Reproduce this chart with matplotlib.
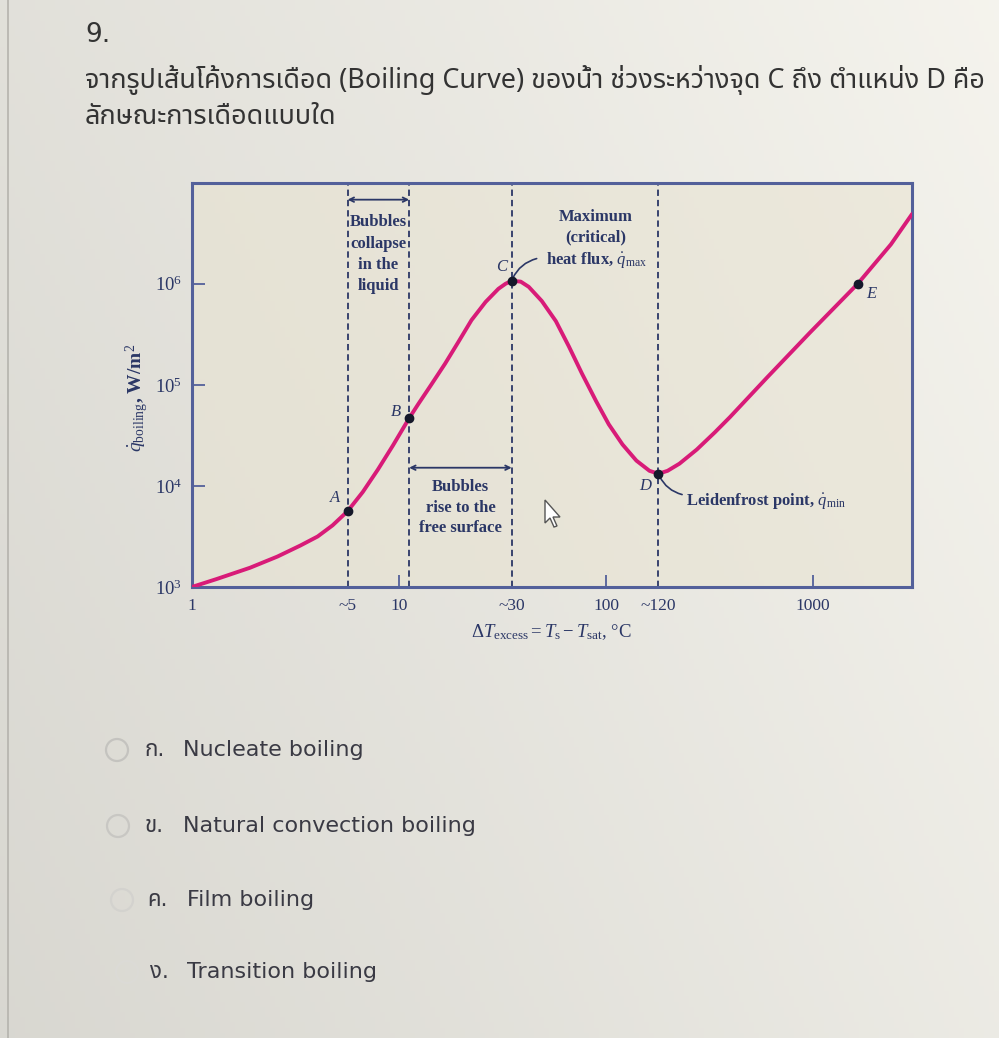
import numpy as np
import matplotlib.pyplot as plt
from matplotlib import font_manager
from matplotlib.ft2font import FT2Font
from matplotlib.patches import Circle, Polygon
from matplotlib.ticker import NullLocator

# boiling curve of water
# excess temperature (deg C) and boiling heat flux (W/m2)
dT = [1.0, 1.32, 1.91, 2.59, 3.34, 4.05, 4.78, 5.65, 6.69, 7.91, 9.35, 11.2,
      12.4, 14.3, 16.7, 19.3, 22.4, 26.2, 30.2, 32.7, 35.0, 38.7, 42.3,
      48.9, 57.2, 66.1, 76.5, 89.4, 103, 120, 140, 162, 179, 198, 226, 274,
      335, 396, 598, 967, 1640, 2370, 3000]
q = [1000, 1200, 1550, 2000, 2570, 3160, 4070, 5620, 8710, 14500, 25100,
     46800, 64600, 100000, 162000, 263000, 437000, 661000, 891000, 1.0e6,
     1.07e6, 1.05e6, 933000, 676000, 427000, 240000, 129000, 69200, 40700,
     25700, 17800, 14100, 13200, 14100, 16600, 22900, 33900, 47900, 118000,
     331000, 1.0e6, 2.45e6, 4.9e6]

# marked points
pt_names = ['A', 'B', 'C', 'D', 'E']
pt_dT = [5.65, 11.2, 35.0, 179, 1640]
pt_q = [5620, 46800, 1.07e6, 13200, 1.0e6]

# regime boundaries (dashed lines)
bound_dT = [5.65, 11.2, 35.0, 179]

x_ticks = [1, 5.65, 10, 35.0, 100, 179, 1000]
x_labels = ['1', '~5', '10', '~30', '100', '~120', '1000']
y_ticks = [1e3, 1e4, 1e5, 1e6]
y_labels = [r'$10^3$', r'$10^4$', r'$10^5$', r'$10^6$']

question_no = '9.'
question = ['จากรูปเส้นโค้งการเดือด (Boiling Curve) ของน้ำ ช่วงระหว่างจุด C ถึง ตำแหน่ง D คือ',
            'ลักษณะการเดือดแบบใด']
choice_marks = ['ก.', 'ข.', 'ค.', 'ง.']
choices = ['Nucleate boiling', 'Natural convection boiling', 'Film boiling',
           'Transition boiling']


def thai_fonts():
    names = []
    for f in font_manager.fontManager.ttflist:
        try:
            if 0x0E01 in FT2Font(f.fname).get_charmap():
                if f.name not in names:
                    names.append(f.name)
        except Exception:
            continue
    return names


thai_names = thai_fonts()
thai = 'DejaVu Sans'
for pref in ['Noto Sans Thai', 'Noto Sans Thai UI', 'Loma', 'Garuda', 'Tlwg Typo']:
    if pref in thai_names:
        thai = pref
        break
else:
    if thai_names:
        thai = thai_names[0]

question_font = [thai, 'DejaVu Sans']
choice_font = ['DejaVu Sans', thai]

plt.rcParams['font.family'] = ['Liberation Serif', 'DejaVu Serif']
plt.rcParams['mathtext.fontset'] = 'custom'
plt.rcParams['mathtext.rm'] = 'Liberation Serif'
plt.rcParams['mathtext.it'] = 'Liberation Serif:italic'
plt.rcParams['mathtext.bf'] = 'Liberation Serif:bold'

ink = '#2b3766'
frame = '#53609a'
curve = '#d81b78'

fig = plt.figure(figsize=(9.99, 10.38), dpi=100)

# page background (photo of a screen)
bg = fig.add_axes([0, 0, 1, 1])
yy, xx = np.mgrid[0:1:200j, 0:1:200j]
shade = 0.845 + 0.075 * xx + 0.035 * (1 - yy)
rgb = np.clip(np.dstack([shade + 0.005, shade, shade - 0.025]), 0, 1)
bg.imshow(rgb, extent=(0, 999, 1038, 0), aspect='auto', zorder=0)
bg.plot([8, 8], [0, 1038], color='#b5b3ad', lw=1.2)
bg.set_xlim(0, 999)
bg.set_ylim(1038, 0)
bg.axis('off')

bg.text(85, 35, question_no, fontsize=19, family=choice_font, color='#333333', va='center')
bg.text(85, 80, question[0], fontsize=19.4, family=question_font, color='#333333', va='center')
bg.text(85, 117, question[1], fontsize=19.4, family=question_font, color='#333333', va='center')

choice_y = [750, 826, 900, 972]
circle_x = [117, 118, 122, 127]
circle_edge = ['#c4c3bf', '#c8c7c3', '#d3d2ce', '#dbdad6']
mark_x = [145, 145, 147, 150]
text_x = [183, 183, 187, 187]
for i in range(4):
    bg.add_patch(Circle((circle_x[i], choice_y[i]), 11, facecolor='none',
                        edgecolor=circle_edge[i], lw=1.6))
    bg.text(mark_x[i], choice_y[i], choice_marks[i], fontsize=16, family=choice_font,
            color='#3a3a44', va='center')
    bg.text(text_x[i], choice_y[i], choices[i], fontsize=16, family=choice_font,
            color='#3a3a44', va='center')

# chart
ax = fig.add_axes([0.192, 0.4345, 0.721, 0.3895])
ax.patch.set_facecolor((0.91, 0.89, 0.82, 0.55))
ax.set_xscale('log')
ax.set_yscale('log')
ax.set_xlim(1, 3000)
ax.set_ylim(1e3, 1e7)
ax.xaxis.set_minor_locator(NullLocator())
ax.yaxis.set_minor_locator(NullLocator())
for s in ax.spines.values():
    s.set_color(frame)
    s.set_linewidth(2.2)

ax.set_xticks(x_ticks)
ax.set_xticklabels(x_labels)
ax.set_yticks(y_ticks)
ax.set_yticklabels(y_labels)
ax.tick_params(axis='both', direction='in', length=9, width=1.3, color=frame,
               labelcolor=ink)
ax.tick_params(axis='x', labelsize=12.5, pad=8)
ax.tick_params(axis='y', labelsize=13.5, pad=7)
for i, t in enumerate(ax.xaxis.get_major_ticks()):
    if x_labels[i] not in ('10', '100', '1000'):
        t.tick1line.set_visible(False)
    t.tick2line.set_visible(False)
for t in ax.yaxis.get_major_ticks():
    t.tick2line.set_visible(False)

for b in bound_dT:
    ax.axvline(b, color=ink, lw=1.3, ls=(0, (3.5, 2.2)), zorder=2)

ax.plot(dT, q, color=curve, lw=2.8, solid_capstyle='round', solid_joinstyle='round',
        zorder=3)
ax.plot(pt_dT, pt_q, 'o', color='#15182a', ms=6, zorder=4)

offsets = [(-9, 9.5), (-9.5, 4.5), (-7.5, 10), (-9.5, -8.5), (9.5, -7.5)]
for name, x, y, off in zip(pt_names, pt_dT, pt_q, offsets):
    ax.annotate(name, (x, y), xytext=off, textcoords='offset points', ha='center',
                va='center', fontstyle='italic', fontsize=12, color=ink)

# regime notes
mid_ab = np.sqrt(bound_dT[0] * bound_dT[1])
mid_bc = np.sqrt(bound_dT[1] * bound_dT[2])
ax.annotate('', xy=(bound_dT[0], 0.958), xytext=(bound_dT[1], 0.958),
            xycoords=('data', 'axes fraction'), textcoords=('data', 'axes fraction'),
            arrowprops=dict(arrowstyle='<->', color=ink, lw=1.3, shrinkA=0, shrinkB=0,
                            mutation_scale=8))
ax.text(mid_ab, 0.922, 'Bubbles\ncollapse\nin the\nliquid', transform=ax.get_xaxis_transform(),
        ha='center', va='top', fontsize=12, fontweight='bold', color=ink, linespacing=1.45)

ax.annotate('', xy=(bound_dT[1], 0.295), xytext=(bound_dT[2], 0.295),
            xycoords=('data', 'axes fraction'), textcoords=('data', 'axes fraction'),
            arrowprops=dict(arrowstyle='<->', color=ink, lw=1.3, shrinkA=0, shrinkB=0,
                            mutation_scale=8))
ax.text(mid_bc, 0.267, 'Bubbles\nrise to the\nfree surface', transform=ax.get_xaxis_transform(),
        ha='center', va='top', fontsize=12, fontweight='bold', color=ink, linespacing=1.38)

ax.text(89.5, 0.936, 'Maximum\n(critical)\nheat flux, $\\dot{q}_{\\max}$',
        transform=ax.get_xaxis_transform(), ha='center', va='top', fontsize=12,
        fontweight='bold', color=ink, linespacing=1.38)
ax.annotate('', xy=(pt_dT[2], pt_q[2]), xytext=(18, 16), textcoords='offset points',
            arrowprops=dict(arrowstyle='-', color=ink, lw=1.2, shrinkA=0, shrinkB=2,
                            connectionstyle='arc3,rad=0.25'))

ax.text(242, 7080, 'Leidenfrost point, $\\dot{q}_{\\min}$', ha='left', va='center',
        fontsize=12, fontweight='bold', color=ink)
ax.annotate('', xy=(pt_dT[3], pt_q[3]), xytext=(17, -15), textcoords='offset points',
            arrowprops=dict(arrowstyle='-', color=ink, lw=1.2, shrinkA=0, shrinkB=2,
                            connectionstyle='arc3,rad=-0.25'))

# axis titles
fig.text(137 / 999, 1 - 398 / 1038, r'$\dot{q}_{\mathrm{boiling}}$, W/m$^2$', rotation=90,
         ha='center', va='center', fontsize=14, fontweight='bold', color=ink)
fig.text(551 / 999, 1 - 632 / 1038,
         r'$\Delta T_{\mathrm{excess}} = T_{\mathrm{s}} - T_{\mathrm{sat}}$, °C',
         ha='center', va='center', fontsize=13.5, color=ink)

# mouse pointer on the screen
ax.add_patch(Polygon([(545, 500), (545, 523), (550, 518), (554, 527), (557, 526),
                      (553, 517), (560, 517)], closed=True, facecolor='white',
                     edgecolor='#555555', lw=1, transform=bg.transData, clip_on=False,
                     zorder=6))

fig.savefig('out.png', dpi=100)
